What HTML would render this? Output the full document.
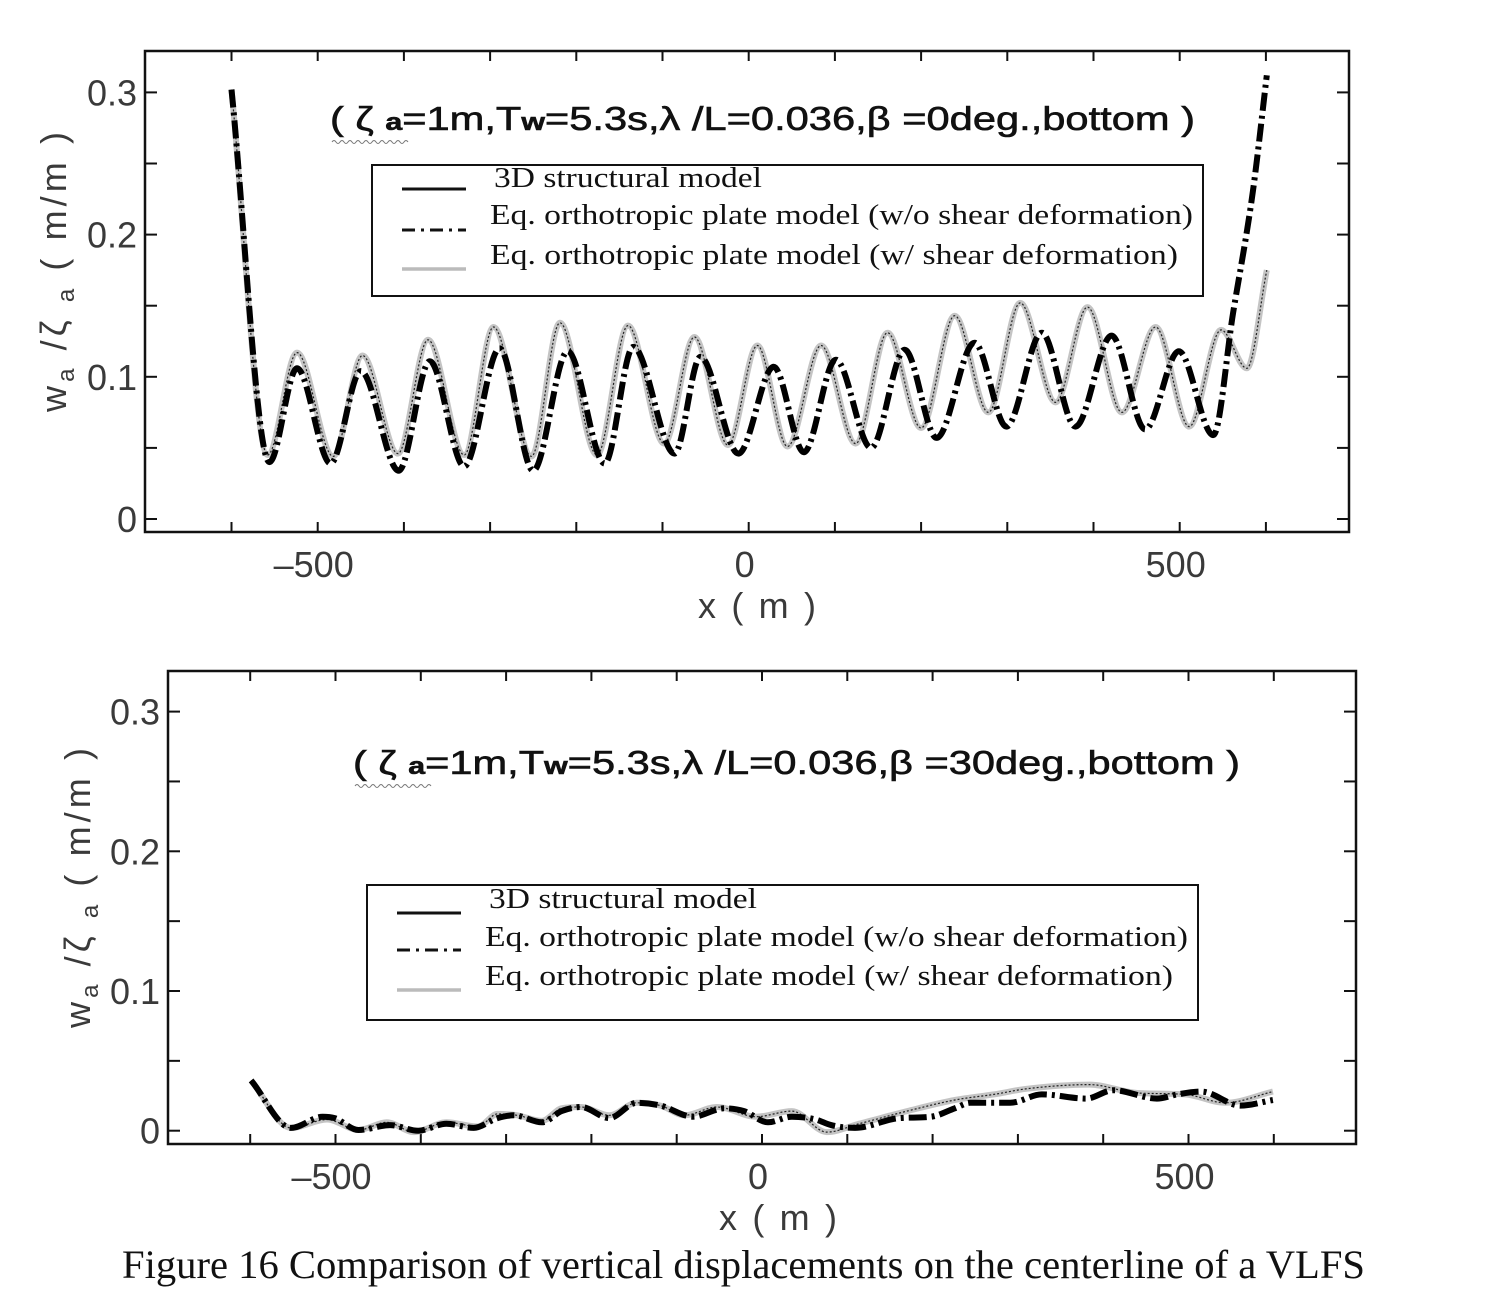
<!DOCTYPE html>
<html><head><meta charset="utf-8"><style>
html,body{margin:0;padding:0;background:#fff;}
svg{display:block;}
.tick{font-family:"Liberation Sans",sans-serif;font-size:36px;fill:#3a3a3a;}
.ttl{font-family:"Liberation Sans","DejaVu Sans",sans-serif;font-size:33px;fill:#111;stroke:#111;stroke-width:0.6;}
.leg{font-family:"Liberation Serif",serif;font-size:29px;fill:#111;}
</style></head><body>
<svg id="fig" width="1497" height="1298" viewBox="0 0 1497 1298" xmlns="http://www.w3.org/2000/svg">
<g id="top"></g>
<g id="bot"></g>
<text x="122" y="1278" font-family="Liberation Serif, serif" font-size="40" fill="#111" textLength="1243" lengthAdjust="spacingAndGlyphs">Figure 16  Comparison of vertical displacements on the centerline of a VLFS</text>
</svg>
<script>
// ---- data: top chart (beta = 0 deg) ----
const topGrayX = [-600,-558,-524,-482,-448,-407,-372,-330,-296,-252,-219,-176,-140,-98,-63,-24,10,45,84,124,161,200,239,278,315,356,393,433,472,511,548,578,601];
const topGrayY = [0.302,0.045,0.117,0.044,0.115,0.046,0.126,0.045,0.135,0.044,0.138,0.045,0.136,0.053,0.128,0.052,0.122,0.051,0.122,0.053,0.131,0.064,0.143,0.075,0.152,0.082,0.149,0.075,0.135,0.065,0.133,0.106,0.175];
const topSolidX = [-600,-558,-524,-482,-448,-407,-372,-330,-296,-252,-219,-176,-140,-98,-63,-24,10,45,84,124,161,200,239,278,315,356,393,433,472,511,548,578,601];
const topSolidY = [0.302,0.045,0.117,0.044,0.115,0.046,0.126,0.045,0.135,0.044,0.138,0.045,0.136,0.053,0.128,0.052,0.122,0.051,0.122,0.053,0.131,0.064,0.143,0.075,0.152,0.082,0.149,0.075,0.135,0.065,0.133,0.106,0.175];
const topDashX = [-600,-556,-524,-485,-450,-406,-370,-330,-289,-250,-210,-167,-134,-86,-56,-12,29,64,101,142,181,218,262,299,340,379,421,460,499,539,562,585,601];
const topDashY = [0.302,0.040,0.106,0.039,0.104,0.034,0.111,0.037,0.120,0.034,0.118,0.039,0.121,0.046,0.114,0.046,0.107,0.047,0.112,0.050,0.119,0.057,0.124,0.065,0.131,0.065,0.129,0.063,0.118,0.059,0.145,0.231,0.312];
// ---- data: bottom chart (beta = 30 deg) ----
const botGrayX = [-599,-552,-510,-473,-440,-408,-370,-333,-310,-287,-258,-235,-212,-179,-147,-119,-91,-53,-7,35,76,114,170,226,272,310,384,440,496,543,599];
const botGrayY = [0.036,0.002,0.008,0.0005,0.006,-0.001,0.006,0.003,0.012,0.011,0.007,0.016,0.017,0.011,0.020,0.018,0.011,0.017,0.010,0.014,-0.001,0.005,0.014,0.022,0.026,0.030,0.033,0.027,0.026,0.020,0.028];
const botSolidX = [-599,-552,-510,-473,-440,-408,-370,-333,-310,-287,-258,-235,-212,-179,-147,-119,-91,-53,-7,35,76,114,170,226,272,310,384,440,496,543,599];
const botSolidY = [0.036,0.002,0.008,0.0005,0.006,-0.001,0.006,0.003,0.012,0.011,0.007,0.016,0.017,0.011,0.020,0.018,0.011,0.017,0.010,0.014,-0.001,0.005,0.014,0.022,0.026,0.030,0.033,0.027,0.026,0.020,0.028];
const botDashX = [-599,-552,-515,-501,-473,-436,-403,-370,-338,-310,-291,-258,-235,-212,-179,-147,-119,-81,-44,-21,7,35,63,81,109,161,198,226,244,291,328,380,412,463,487,515,561,599];
const botDashY = [0.036,0.002,0.010,0.009,0.0005,0.004,0.000,0.005,0.002,0.009,0.011,0.006,0.014,0.017,0.009,0.020,0.018,0.010,0.016,0.014,0.006,0.010,0.008,0.004,0.002,0.009,0.010,0.016,0.020,0.020,0.026,0.023,0.029,0.023,0.026,0.028,0.018,0.022];
// ---- ticks ----
const xTickVals = [-600,-500,-400,-300,-200,-100,0,100,200,300,400,500,600];
const xLabelVals = [-500,0,500];
const xLabelText = ["\u2013500","0","500"];
const yTickVals = [0,0.05,0.1,0.15,0.2,0.25,0.3];
const yLabelVals = [0,0.1,0.2,0.3];
const yLabelText = ["0","0.1","0.2","0.3"];
const legendLabels = ["3D structural model","Eq. orthotropic plate model (w/o shear deformation)","Eq. orthotropic plate model (w/ shear deformation)"];

const NS="http://www.w3.org/2000/svg";
function mk(parent,tag,attrs,text){const e=document.createElementNS(NS,tag);for(const k in attrs)e.setAttribute(k,attrs[k]);if(text!==undefined)e.textContent=text;parent.appendChild(e);return e;}

function monoPath(xs,ys,sx,sy){
  const n=xs.length,X=xs.map(sx),Y=ys.map(sy);
  const d=[],m=new Array(n);
  for(let i=0;i<n-1;i++)d.push((Y[i+1]-Y[i])/(X[i+1]-X[i]));
  m[0]=d[0];m[n-1]=d[n-2];
  for(let i=1;i<n-1;i++){m[i]=(d[i-1]*d[i]<=0)?0:(d[i-1]+d[i])/2;}
  for(let i=0;i<n-1;i++){if(d[i]===0){m[i]=0;m[i+1]=0;continue;}const a=m[i]/d[i],b=m[i+1]/d[i],s=a*a+b*b;if(s>9){const t=3/Math.sqrt(s);m[i]=t*a*d[i];m[i+1]=t*b*d[i];}}
  let p="M"+X[0].toFixed(1)+","+Y[0].toFixed(1);
  for(let i=0;i<n-1;i++){const h=(X[i+1]-X[i])/3;p+=" C"+(X[i]+h).toFixed(1)+","+(Y[i]+m[i]*h).toFixed(1)+" "+(X[i+1]-h).toFixed(1)+","+(Y[i+1]-m[i+1]*h).toFixed(1)+" "+X[i+1].toFixed(1)+","+Y[i+1].toFixed(1);}
  return p;
}

function chart(g,cfg){
  const sx=v=>cfg.x0+v*cfg.kx, sy=v=>cfg.y0-v*cfg.ky;
  const L=cfg.left,R=cfg.right,T=cfg.top,B=cfg.bottom;
  const frame=mk(g,"rect",{x:L,y:T,width:R-L,height:B-T,fill:"none",stroke:"#111","stroke-width":2.5});
  
  
  xTickVals.forEach(v=>{const x=sx(v);
    const t1=mk(g,"line",{x1:x,y1:B,x2:x,y2:B-10,stroke:"#111","stroke-width":2});
    
    
    const t2=mk(g,"line",{x1:x,y1:T,x2:x,y2:T+10,stroke:"#111","stroke-width":2});
    
    });
  yTickVals.forEach(v=>{const y=sy(v);
    const t1=mk(g,"line",{x1:L,y1:y,x2:L+12,y2:y,stroke:"#111","stroke-width":2});
    
    
    const t2=mk(g,"line",{x1:R,y1:y,x2:R-12,y2:y,stroke:"#111","stroke-width":2});
    
    });
  xLabelVals.forEach((v,i)=>{const t=mk(g,"text",{x:sx(v)-4,y:B+45,"text-anchor":"middle",class:"tick"},xLabelText[i]);
    
    });
  yLabelVals.forEach((v,i)=>{const t=mk(g,"text",{x:L-8,y:sy(v)+13,"text-anchor":"end",class:"tick"},yLabelText[i]);
    
    });
  const xt=mk(g,"text",{x:cfg.xtX,y:cfg.xtY,"text-anchor":"middle",class:"tick","xml:space":"preserve",textLength:118,lengthAdjust:"spacing"},"x  ( m )");
  
  
  const yt=mk(g,"text",{transform:"translate("+cfg.ytX+","+cfg.ytY+") rotate(-90)","text-anchor":"middle",class:"tick",textLength:280,lengthAdjust:"spacing"});
  
  
  mk(yt,"tspan",{},"w");mk(yt,"tspan",{"font-size":"24",dy:"8"},"a");mk(yt,"tspan",{dy:"-8"}," /\u03B6 ");mk(yt,"tspan",{"font-size":"24",dy:"8"},"a");mk(yt,"tspan",{dy:"-8"},"  ( m/m )");
  // title
  const tt=mk(g,"text",{x:cfg.tX,y:cfg.tY,class:"ttl",textLength:cfg.tW,lengthAdjust:"spacingAndGlyphs"});
  
  
  mk(tt,"tspan",{},"( \u03B6  ");mk(tt,"tspan",{"font-size":"24","font-weight":"bold"},"a");mk(tt,"tspan",{},"=1m,T");mk(tt,"tspan",{"font-size":"24","font-weight":"bold"},"w");mk(tt,"tspan",{},"=5.3s,\u03BB /L=0.036,\u03B2 ="+cfg.beta+"deg.,bottom )");
  mk(g,"path",{d:"M"+(cfg.tX+2)+","+(cfg.tY+12)+" q2,-3 4,0 t4,0 t4,0 t4,0 t4,0 t4,0 t4,0 t4,0 t4,0 t4,0 t4,0 t4,0 t4,0 t4,0 t4,0 t4,0 t4,0 t4,0 t4,0",fill:"none",stroke:"#777","stroke-width":1});
  // series
  const pg=mk(g,"path",{d:monoPath(cfg.gx,cfg.gy,sx,sy),fill:"none",stroke:"#c4c4c4","stroke-width":6,"stroke-linejoin":"round"});
  
  
  const ps=mk(g,"path",{d:monoPath(cfg.sxv,cfg.syv,sx,sy),fill:"none",stroke:"#222","stroke-width":1.2,"stroke-dasharray":"2 2"});
  
  
  const pd=mk(g,"path",{d:monoPath(cfg.dx,cfg.dy,sx,sy),fill:"none",stroke:"#000","stroke-width":6,"stroke-dasharray":"18 5 3 5"});
  
  
  // legend
  const lg=mk(g,"g",{});
  
  
  mk(lg,"rect",{x:cfg.lgX,y:cfg.lgY,width:831,height:cfg.lgH,fill:"#fff",stroke:"#111","stroke-width":2});
  const sw=[{s:"#111",w:3,da:"none"},{s:"#111",w:3,da:"13 6 3 6"},{s:"#bbb",w:3.5,da:"none"}];
  const lw=[268,703,688];
  for(let i=0;i<3;i++){
    const ly=cfg.lgY+cfg.lineOff[i];
    const ln=mk(lg,"line",{x1:cfg.lgX+30,x2:cfg.lgX+94,y1:ly,y2:ly,stroke:sw[i].s,"stroke-width":sw[i].w,"stroke-dasharray":sw[i].da});
    
    
    const tx=mk(lg,"text",{x:cfg.lgX+(i===0?122:118),y:cfg.lgY+cfg.textOff[i],class:"leg",textLength:lw[i],lengthAdjust:"spacingAndGlyphs"},legendLabels[i]);
    
    
  }
}

chart(document.getElementById("top"),{left:145,right:1349,top:51,bottom:532,x0:748.7,kx:0.862,y0:519,ky:1422,
  xtX:757,xtY:618,ytX:66,ytY:272,tX:330,tY:130,tW:865,beta:"0",
  gx:topGrayX,gy:topGrayY,sxv:topSolidX,syv:topSolidY,dx:topDashX,dy:topDashY,
  lgX:372,lgY:165,lgH:131,lineOff:[24,65,104],textOff:[22,59,99]});
chart(document.getElementById("bot"),{left:168,right:1356,top:671,bottom:1144,x0:762,kx:0.853,y0:1130.7,ky:1397,
  xtX:778,xtY:1230,ytX:90,ytY:888,tX:353,tY:774,tW:887,beta:"30",
  gx:botGrayX,gy:botGrayY,sxv:botSolidX,syv:botSolidY,dx:botDashX,dy:botDashY,
  lgX:367,lgY:885,lgH:135,lineOff:[28,65,105],textOff:[23,61,100]});
</script>
</body></html>
